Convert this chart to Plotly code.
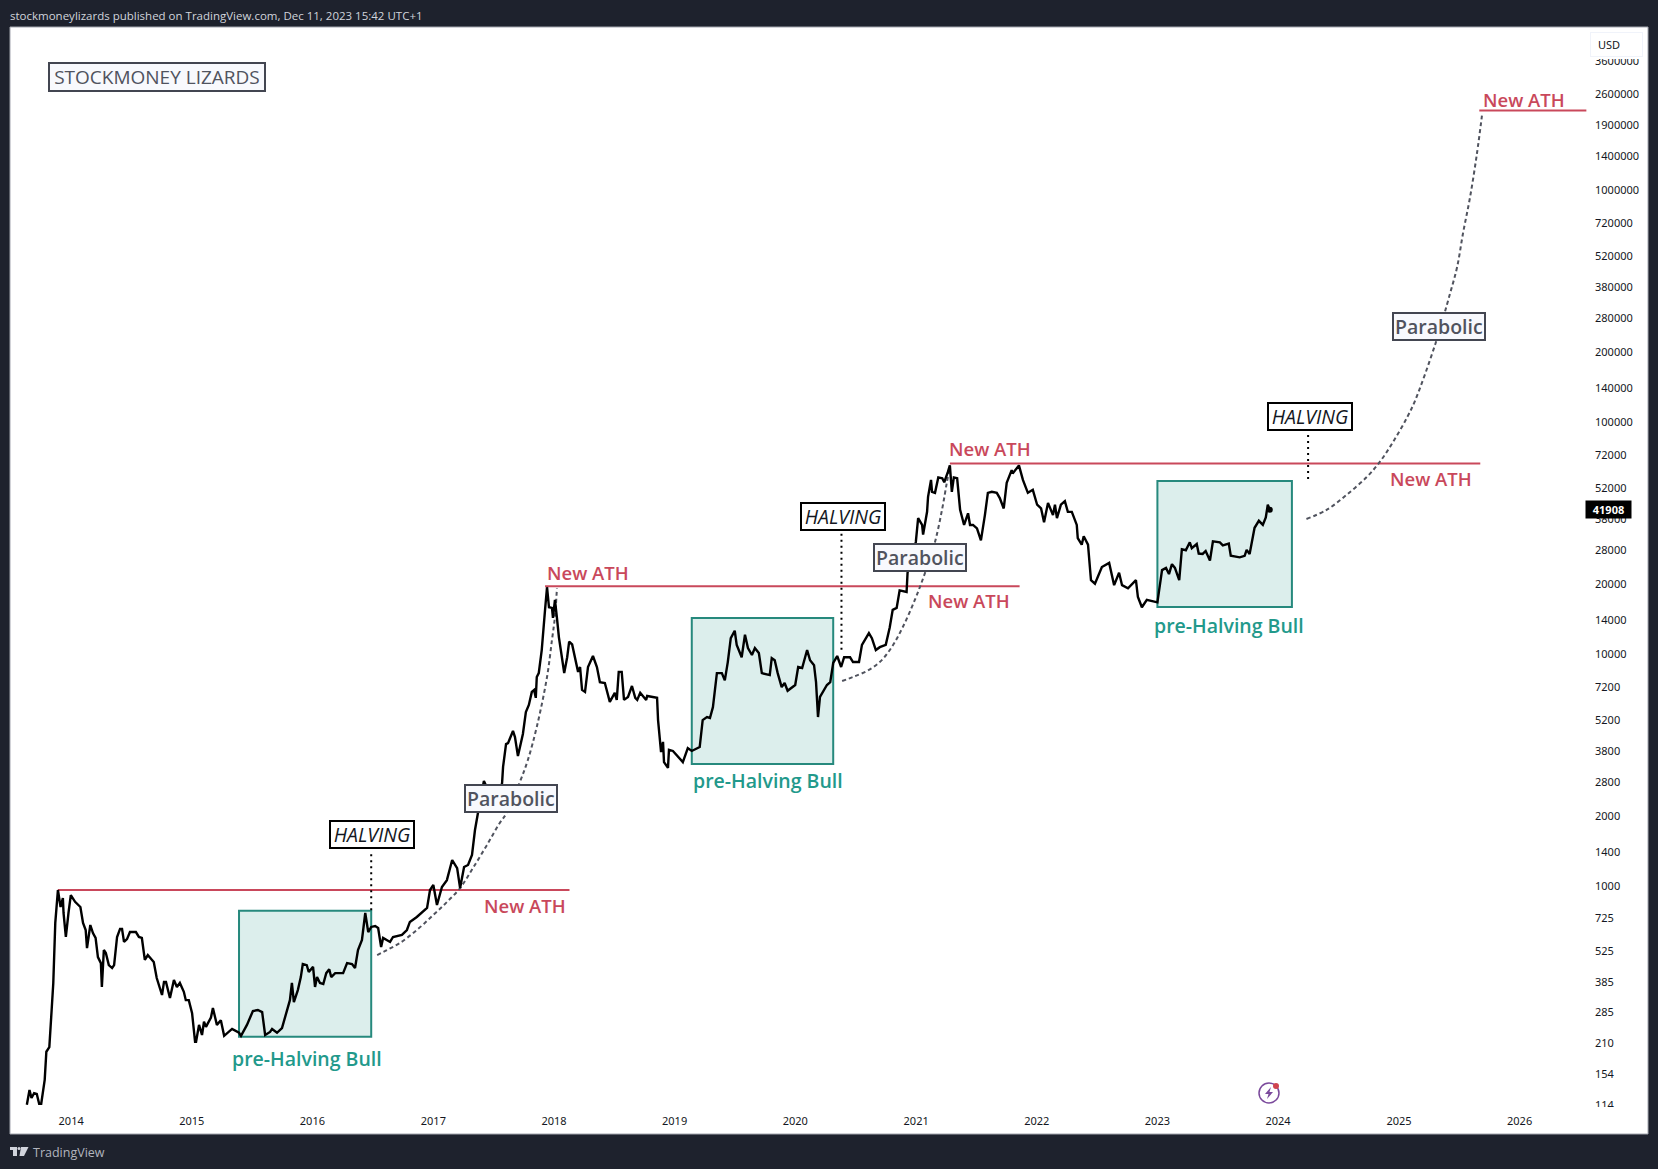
import numpy as np
import plotly.graph_objects as go

# weekly-ish closes
btc_dates = [
    "2013-08-20", "2013-08-28", "2013-09-03", "2013-09-11", "2013-09-19", "2013-09-27", "2013-10-02", "2013-10-08",
    "2013-10-13", "2013-10-18", "2013-10-27", "2013-11-03", "2013-11-08", "2013-11-14", "2013-11-22", "2013-11-30",
    "2013-12-07", "2013-12-09", "2013-12-16", "2013-12-24", "2013-12-31", "2014-01-13", "2014-01-29", "2014-02-06",
    "2014-02-14", "2014-02-18", "2014-02-28", "2014-03-08", "2014-03-16", "2014-03-23", "2014-04-01", "2014-04-04",
    "2014-04-10", "2014-04-16", "2014-04-25", "2014-05-05", "2014-05-11", "2014-05-20", "2014-05-29", "2014-06-04",
    "2014-06-10", "2014-06-19", "2014-06-28", "2014-07-16", "2014-07-25", "2014-08-03", "2014-08-12", "2014-08-21",
    "2014-09-08", "2014-09-17", "2014-09-26", "2014-10-03", "2014-10-09", "2014-10-15", "2014-10-27", "2014-11-08",
    "2014-11-17", "2014-11-26", "2014-12-08", "2014-12-14", "2014-12-23", "2015-01-02", "2015-01-11", "2015-01-14",
    "2015-01-23", "2015-02-01", "2015-02-07", "2015-02-13", "2015-02-28", "2015-03-06", "2015-03-18", "2015-03-30",
    "2015-04-09", "2015-04-24", "2015-05-03", "2015-05-24", "2015-05-30", "2015-06-17", "2015-07-05", "2015-07-20",
    "2015-08-02", "2015-08-11", "2015-08-26", "2015-09-01", "2015-09-16", "2015-10-01", "2015-10-13", "2015-10-25",
    "2015-10-31", "2015-11-06", "2015-11-18", "2015-11-27", "2015-12-03", "2015-12-15", "2015-12-21", "2016-01-03",
    "2016-01-09", "2016-01-15", "2016-01-24", "2016-02-03", "2016-02-12", "2016-02-21", "2016-02-27", "2016-03-10",
    "2016-04-03", "2016-04-15", "2016-04-30", "2016-05-09", "2016-05-18", "2016-05-30", "2016-06-09", "2016-06-18",
    "2016-06-27", "2016-07-09", "2016-07-18", "2016-07-27", "2016-08-02", "2016-08-23", "2016-09-01", "2016-09-28",
    "2016-10-13", "2016-10-22", "2016-11-12", "2016-12-13", "2016-12-22", "2017-01-01", "2017-01-12", "2017-01-27",
    "2017-02-11", "2017-02-27", "2017-03-14", "2017-03-23", "2017-04-04", "2017-04-16", "2017-04-28", "2017-05-07",
    "2017-05-16", "2017-06-03", "2017-06-21", "2017-07-09", "2017-07-28", "2017-07-31", "2017-08-09", "2017-08-15",
    "2017-08-30", "2017-09-05", "2017-09-14", "2017-09-26", "2017-09-29", "2017-10-08", "2017-10-17", "2017-10-26",
    "2017-11-02", "2017-11-07", "2017-11-10", "2017-11-16", "2017-11-25", "2017-12-05", "2017-12-11", "2017-12-17",
    "2017-12-26", "2017-12-29", "2018-01-04", "2018-01-10", "2018-01-16", "2018-01-25", "2018-02-01", "2018-02-10",
    "2018-02-16", "2018-02-25", "2018-03-06", "2018-03-15", "2018-03-21", "2018-03-27", "2018-04-05", "2018-04-14",
    "2018-04-29", "2018-05-11", "2018-05-20", "2018-06-04", "2018-06-19", "2018-07-04", "2018-07-10", "2018-07-16",
    "2018-07-25", "2018-08-01", "2018-08-13", "2018-08-25", "2018-09-04", "2018-09-10", "2018-09-19", "2018-10-07",
    "2018-10-10", "2018-11-09", "2018-11-12", "2018-11-21", "2018-11-27", "2018-11-30", "2018-12-12", "2018-12-15",
    "2018-12-27", "2019-01-11", "2019-01-26", "2019-02-10", "2019-02-22", "2019-03-18", "2019-03-27", "2019-04-09",
    "2019-04-18", "2019-04-27", "2019-05-09", "2019-05-24", "2019-06-02", "2019-06-11", "2019-06-20", "2019-07-02",
    "2019-07-08", "2019-07-23", "2019-08-02", "2019-08-11", "2019-08-23", "2019-09-01", "2019-09-13", "2019-09-22",
    "2019-10-16", "2019-10-22", "2019-10-31", "2019-11-09", "2019-11-21", "2019-11-30", "2019-12-09", "2020-01-01",
    "2020-01-10", "2020-01-22", "2020-02-06", "2020-02-15", "2020-02-27", "2020-03-04", "2020-03-10", "2020-03-16",
    "2020-03-25", "2020-04-06", "2020-04-16", "2020-04-25", "2020-05-07", "2020-05-19", "2020-05-28", "2020-06-15",
    "2020-06-24", "2020-07-12", "2020-07-21", "2020-08-11", "2020-08-20", "2020-09-01", "2020-09-13", "2020-10-01",
    "2020-10-13", "2020-10-22", "2020-11-03", "2020-11-12", "2020-12-03", "2020-12-06", "2020-12-31", "2021-01-07",
    "2021-01-19", "2021-01-22", "2021-02-03", "2021-02-06", "2021-02-15", "2021-02-18", "2021-02-27", "2021-03-09",
    "2021-03-21", "2021-03-27", "2021-04-07", "2021-04-13", "2021-04-19", "2021-04-25", "2021-05-05", "2021-05-14",
    "2021-05-26", "2021-06-07", "2021-06-13", "2021-06-22", "2021-07-04", "2021-07-16", "2021-07-28", "2021-08-06",
    "2021-08-18", "2021-09-02", "2021-09-11", "2021-09-23", "2021-10-02", "2021-10-17", "2021-10-20", "2021-11-08",
    "2021-11-20", "2021-12-05", "2021-12-20", "2022-01-02", "2022-01-14", "2022-01-23", "2022-02-04", "2022-02-19",
    "2022-02-25", "2022-03-03", "2022-03-15", "2022-03-27", "2022-04-05", "2022-04-17", "2022-05-02", "2022-05-05",
    "2022-05-17", "2022-05-23", "2022-06-05", "2022-06-14", "2022-06-26", "2022-07-17", "2022-08-08", "2022-08-23",
    "2022-09-07", "2022-09-16", "2022-10-04", "2022-10-28", "2022-11-03", "2022-11-15", "2022-11-30", "2023-01-01",
    "2023-01-15", "2023-01-27", "2023-02-05", "2023-02-14", "2023-02-23", "2023-03-08", "2023-03-16", "2023-03-28",
    "2023-04-09", "2023-04-15", "2023-04-30", "2023-05-06", "2023-05-18", "2023-05-27", "2023-06-09", "2023-06-18",
    "2023-07-09", "2023-07-18", "2023-08-05", "2023-08-11", "2023-09-07", "2023-09-22", "2023-09-28", "2023-10-07",
    "2023-10-22", "2023-10-28", "2023-11-04", "2023-11-16", "2023-11-25", "2023-12-01", "2023-12-07",
]
btc_close = [
    114, 132, 122, 128, 127, 114, 114, 128,
    146, 193, 202, 292, 382, 693, 961, 812,
    887, 765, 603, 765, 914, 855, 812, 693,
    646, 540, 679, 627, 597, 494, 465, 367,
    530, 514, 456, 443, 456, 603, 653, 653,
    574, 590, 633, 633, 603, 597, 480, 504,
    470, 401, 367, 339, 386, 386, 329, 393,
    367, 382, 350, 322, 322, 283, 213, 213,
    252, 228, 260, 247, 271, 298, 252, 264,
    226, 235, 242, 233, 226, 252, 289, 292,
    286, 228, 235, 242, 233, 244, 278, 322,
    382, 316, 356, 405, 461, 456, 426, 448,
    367, 405, 382, 378, 421, 438, 405, 421,
    421, 465, 461, 443, 530, 585, 765, 633,
    666, 672, 659, 546, 597, 574, 603, 615,
    646, 700, 735, 804, 961, 1010, 828, 990,
    1060, 1294, 1195, 980, 1208, 1232, 1360, 1743,
    2063, 2836, 2500, 2200, 2780, 3260, 4090, 4130,
    4660, 4385, 3630, 4385, 4520, 5620, 6030, 6860,
    7000, 6470, 7960, 8270, 10400, 15500, 19400, 15900,
    15800, 14300, 17100, 14300, 11800, 9680, 8270, 9680,
    11300, 11000, 9680, 8370, 8790, 7000, 6860, 8790,
    9800, 8790, 7560, 7500, 6220, 6800, 6340, 8370,
    8370, 6340, 6530, 7280, 6470, 6340, 6800, 6340,
    6590, 6470, 5190, 3780, 4180, 3420, 3230, 3860,
    3820, 3600, 3420, 3930, 3820, 3970, 5190, 5350,
    5300, 5900, 8270, 8270, 7700, 9230, 11700, 12600,
    10950, 9680, 12100, 10600, 9900, 10600, 10100, 8270,
    8110, 9600, 9400, 8270, 7200, 7500, 6940, 7350,
    8790, 8700, 10400, 9400, 8950, 7560, 5350, 6530,
    6860, 7350, 7560, 9150, 9800, 8790, 9680, 9680,
    9230, 9230, 10950, 12300, 11700, 10400, 10700, 10950,
    13000, 15500, 15800, 18800, 18500, 22400, 30400, 38500,
    36000, 32700, 41000, 47600, 56300, 50000, 49500, 57700,
    57200, 55000, 60900, 65000, 50000, 57700, 57200, 41800,
    36000, 40400, 36000, 36000, 34800, 30900, 39700, 49500,
    50000, 49500, 47000, 42400, 54700, 62000, 60000, 65000,
    56300, 49500, 51000, 44000, 42400, 37000, 44800, 39700,
    44000, 38500, 44000, 45600, 41000, 41000, 36000, 31600,
    29600, 32200, 29600, 20800, 20100, 23700, 24700, 19800,
    22400, 19800, 19200, 20800, 17600, 15900, 17100, 16700,
    23000, 23500, 22100, 24400, 23500, 20800, 28300, 28000,
    30300, 28600, 29800, 27100, 27000, 27800, 25300, 30600,
    30300, 29400, 29900, 26500, 26100, 26500, 28100, 27000,
    35000, 36000, 37500, 36000, 38800, 44000, 41908,
]

# dotted parabolas
para1_dates = ["2016-07-15", "2016-08-14", "2016-09-22", "2016-11-12", "2017-01-01", "2017-02-11", "2017-03-23", "2017-05-01",
               "2017-06-12", "2017-07-21", "2017-08-11", "2017-09-20", "2017-10-14", "2017-11-10", "2017-12-11", "2017-12-26",
               "2018-01-04", "2018-01-10"]
para1_price = [504, 530, 568, 646, 750, 853, 980, 1196,
               1500, 1870, 2063, 2810, 3490, 4850, 7960, 11500,
               14500, 19200]
para2_dates = ["2020-05-22", "2020-06-24", "2020-08-05", "2020-09-13", "2020-10-19", "2020-11-22", "2020-12-28", "2021-01-28",
               "2021-02-27", "2021-03-21", "2021-04-04", "2021-04-13"]
para2_price = [7650, 7960, 8450, 9230, 10700, 13100, 17100, 22400,
               30400, 42400, 55000, 64000]
para3_dates = ["2024-03-27", "2024-05-27", "2024-07-27", "2024-09-26", "2024-11-04", "2024-12-14", "2025-01-26", "2025-02-19",
               "2025-04-21", "2025-06-05", "2025-06-26", "2025-07-14", "2025-08-04", "2025-08-25", "2025-09-09"]
para3_price = [38200, 41800, 48600, 58000, 67300, 82000, 105000, 124000,
               217000, 360000, 466000, 654000, 930000, 1440000, 2090000]

# New ATH levels: start, end, price
ath_starts = ["2013-11-22", "2017-12-05", "2021-04-13", "2025-09-01"]
ath_ends = ["2018-02-17", "2021-11-10", "2025-09-04", "2026-07-22"]
ath_prices = [961, 19600, 66300, 2200000]

# pre-halving boxes
box_starts = ["2015-05-24", "2019-02-22", "2023-01-01"]
box_ends = ["2016-06-27", "2020-04-25", "2024-02-12"]
box_highs = [782, 14300, 55680]
box_lows = [224, 3356, 15950]

# halving markers
halving_dates = ["2016-06-27", "2020-05-20", "2024-04-01"]
halving_tops = [1370, 33000, 87900]
halving_bottoms = [782, 10100, 56800]

price_ticks = [114, 154, 210, 285, 385, 525, 725, 1000, 1400, 2000, 2800, 3800, 5200, 7200, 10000, 14000, 20000,
               28000, 38000, 52000, 72000, 100000, 140000, 200000, 280000, 380000, 520000, 720000, 1000000,
               1400000, 1900000, 2600000, 3600000]
years = list(range(2014, 2027))

DARK = "#1e222d"
TEAL = "#26897d"
TEAL_TEXT = "#22998b"
RED = "#c9485b"
GREY = "#50535e"
W, H = 1658, 1169
L, R, T, B = 10, 1590, 27, 1105
LABEL_FONT = "Open Sans"


def px(x):
    return (x - L) / (R - L)


def py(y):
    return (B - y) / (B - T)


fig = go.Figure()

# white panel behind everything
fig.add_shape(type="rect", xref="paper", yref="paper", x0=px(10), x1=px(1648), y0=py(27), y1=py(1134),
              fillcolor="white", line=dict(color="#a3a6af", width=1), layer="below")

for x0, x1, hi, lo in zip(box_starts, box_ends, box_highs, box_lows):
    fig.add_shape(type="rect", x0=x0, x1=x1, y0=lo, y1=hi, xref="x", yref="y",
                  fillcolor="#dceeec", line=dict(color=TEAL, width=2), layer="below")

for x0, x1, p in zip(ath_starts, ath_ends, ath_prices):
    fig.add_trace(go.Scatter(x=[x0, x1], y=[p, p], mode="lines", line=dict(color=RED, width=2)))

for d, top, bot in zip(halving_dates, halving_tops, halving_bottoms):
    fig.add_trace(go.Scatter(x=[d, d], y=[top, bot], mode="lines", line=dict(color="black", width=2, dash="2px,4px")))

for xs, ys in [(para1_dates, para1_price), (para2_dates, para2_price), (para3_dates, para3_price)]:
    fig.add_trace(go.Scatter(x=xs, y=ys, mode="lines", line=dict(color=GREY, width=2, dash="4px,3px", shape="spline")))

fig.add_trace(go.Scatter(x=btc_dates, y=btc_close, mode="lines", line=dict(color="black", width=2.4)))
fig.add_trace(go.Scatter(x=btc_dates[-1:], y=btc_close[-1:], mode="markers", marker=dict(color="black", size=6)))


def label(text, x, y, color, size=18, **kw):
    fig.add_annotation(text=text, xref="paper", yref="paper", x=px(x), y=py(y), showarrow=False,
                       xanchor="center", yanchor="middle",
                       font=dict(family=LABEL_FONT, size=size, color=color, weight=kw.pop("weight", 600),
                                 style=kw.pop("style", "normal")), **kw)


for x, y in [(307, 1058), (768, 780), (1229, 625)]:
    label("pre-Halving Bull", x, y, TEAL_TEXT, size=19.5)

for x, y in [(525, 905), (588, 572), (969, 600), (990, 448), (1431, 478), (1524, 99)]:
    label("New ATH", x, y, RED, size=18.5)

for x, y in [(372, 834.5), (842.5, 516), (1310, 416)]:
    label("HALVING", x, y, "#131722", size=19.5, weight=400, style="italic", bgcolor="white", bordercolor="black",
          borderwidth=2, width=82, height=25, borderpad=0)

for x, y in [(511, 798), (920, 557), (1439, 327)]:
    label("Parabolic", x, y, GREY, size=19.5, weight=600, bgcolor="#f8f9fd", bordercolor="#434651",
          borderwidth=2, width=90, height=25, borderpad=0)

label("STOCKMONEY LIZARDS", 157, 77, GREY, size=19, weight=500, bgcolor="#f8f9fd", bordercolor="#434651",
      borderwidth=2, width=214, height=26, borderpad=0)

# header / footer text on the dark frame
fig.add_annotation(text="stockmoneylizards published on TradingView.com, Dec 11, 2023 15:42 UTC+1", xref="paper",
                   yref="paper", x=px(8), y=py(15), xanchor="left", yanchor="middle", showarrow=False,
                   font=dict(family=LABEL_FONT, size=11.5, color="#d1d4dc"))
fig.add_annotation(text="TradingView", xref="paper", yref="paper", x=px(31), y=py(1152), xanchor="left",
                   yanchor="middle", showarrow=False, font=dict(family=LABEL_FONT, size=12.5, color="#b2b5be"))

# price scale corner: the USD button sits on the top tick, the bottom of the scale is cut by the time scale
fig.add_shape(type="rect", xref="paper", yref="paper", x0=px(1591), x1=px(1647), y0=py(57), y1=py(59),
              fillcolor="white", line=dict(width=0), layer="above")
fig.add_shape(type="rect", xref="paper", yref="paper", x0=px(1591), x1=px(1647), y0=py(1107), y1=py(1133),
              fillcolor="white", line=dict(width=0), layer="above")
fig.add_annotation(text=" ", xref="paper", yref="paper", x=px(1616.5), y=py(44.5), xanchor="center", yanchor="middle",
                   showarrow=False, bgcolor="white", bordercolor="#f0f3fa", borderwidth=1, width=51, height=23, borderpad=0)
fig.add_annotation(text="USD", xref="paper", yref="paper", x=px(1609), y=py(44.5), xanchor="center", yanchor="middle",
                   showarrow=False, font=dict(family="Noto Sans", size=11, color="#131722"))

# last price tag
fig.add_annotation(text="<b>41908</b>", xref="paper", yref="y", x=px(1608.5), y=np.log10(btc_close[-1]), xanchor="center",
                   yanchor="middle", showarrow=False, font=dict(family="Noto Sans", size=11, color="white"),
                   bgcolor="black", width=45, height=17, borderpad=0)

# TradingView logo
logo = [
    "M10 1147 L17 1147 L17 1156 L13 1156 L13 1150 L10 1150 Z",
    "M21 1147 L28.5 1147 L24 1156 L19.5 1156 Z",
]
for p in logo:
    pts = p.replace("M", "M ").replace("L", "L ").split()
    out = []
    i = 0
    while i < len(pts):
        if pts[i] in ("M", "L"):
            out.append(f"{pts[i]} {px(float(pts[i + 1])):.5f} {py(float(pts[i + 2])):.5f}")
            i += 3
        else:
            out.append(pts[i])
            i += 1
    fig.add_shape(type="path", xref="paper", yref="paper", path=" ".join(out), fillcolor="#d1d4dc", line=dict(width=0),
                  layer="above")
fig.add_shape(type="circle", xref="paper", yref="paper", x0=px(17.5), x1=px(20.5), y0=py(1147), y1=py(1150),
              fillcolor="#d1d4dc", line=dict(width=0), layer="above")

# lightning icon near the last bar
fig.add_shape(type="circle", xref="paper", yref="paper", x0=px(1259), x1=px(1279), y0=py(1083), y1=py(1103),
              line=dict(color="#7b4a9c", width=1.5), fillcolor="white", layer="above")
fig.add_shape(type="circle", xref="paper", yref="paper", x0=px(1273), x1=px(1279), y0=py(1083), y1=py(1089),
              fillcolor="#d0434f", line=dict(width=0), layer="above")
fig.add_shape(type="path", xref="paper", yref="paper", fillcolor="#7b4a9c", line=dict(width=0), layer="above",
              path=f"M {px(1271):.5f} {py(1087):.5f} L {px(1265):.5f} {py(1094):.5f} L {px(1268.5):.5f} {py(1094):.5f} "
                   f"L {px(1267):.5f} {py(1099):.5f} L {px(1273):.5f} {py(1092):.5f} L {px(1269.5):.5f} {py(1092):.5f} Z")

fig.update_layout(
    width=W, height=H, autosize=False, showlegend=False,
    margin=dict(l=L, r=W - R, t=T, b=H - B, pad=0),
    paper_bgcolor=DARK, plot_bgcolor="white",
    hovermode=False,
)
fig.update_xaxes(
    type="date", range=["2013-06-30", "2026-08-02"], showgrid=False, zeroline=False, showline=False,
    tickmode="array", tickvals=[f"{y}-01-01" for y in years], ticktext=[str(y) for y in years],
    ticks="outside", ticklen=6, tickcolor="rgba(0,0,0,0)",
    tickfont=dict(family="Noto Sans", size=11, color="#131722"),
)
fig.update_yaxes(
    type="log", range=[2.056, 6.7026], side="right", showgrid=False, zeroline=False, showline=False,
    tickmode="array", tickvals=price_ticks, ticktext=[str(v) for v in price_ticks],
    ticks="", ticklabelstandoff=4,
    tickfont=dict(family="Noto Sans", size=11, color="#131722"),
)

fig.write_html("out.html", config=dict(displayModeBar=False),
               post_script="document.body.style.margin='0';document.body.style.overflow='hidden';"
                           "document.body.style.background='" + DARK + "';")
